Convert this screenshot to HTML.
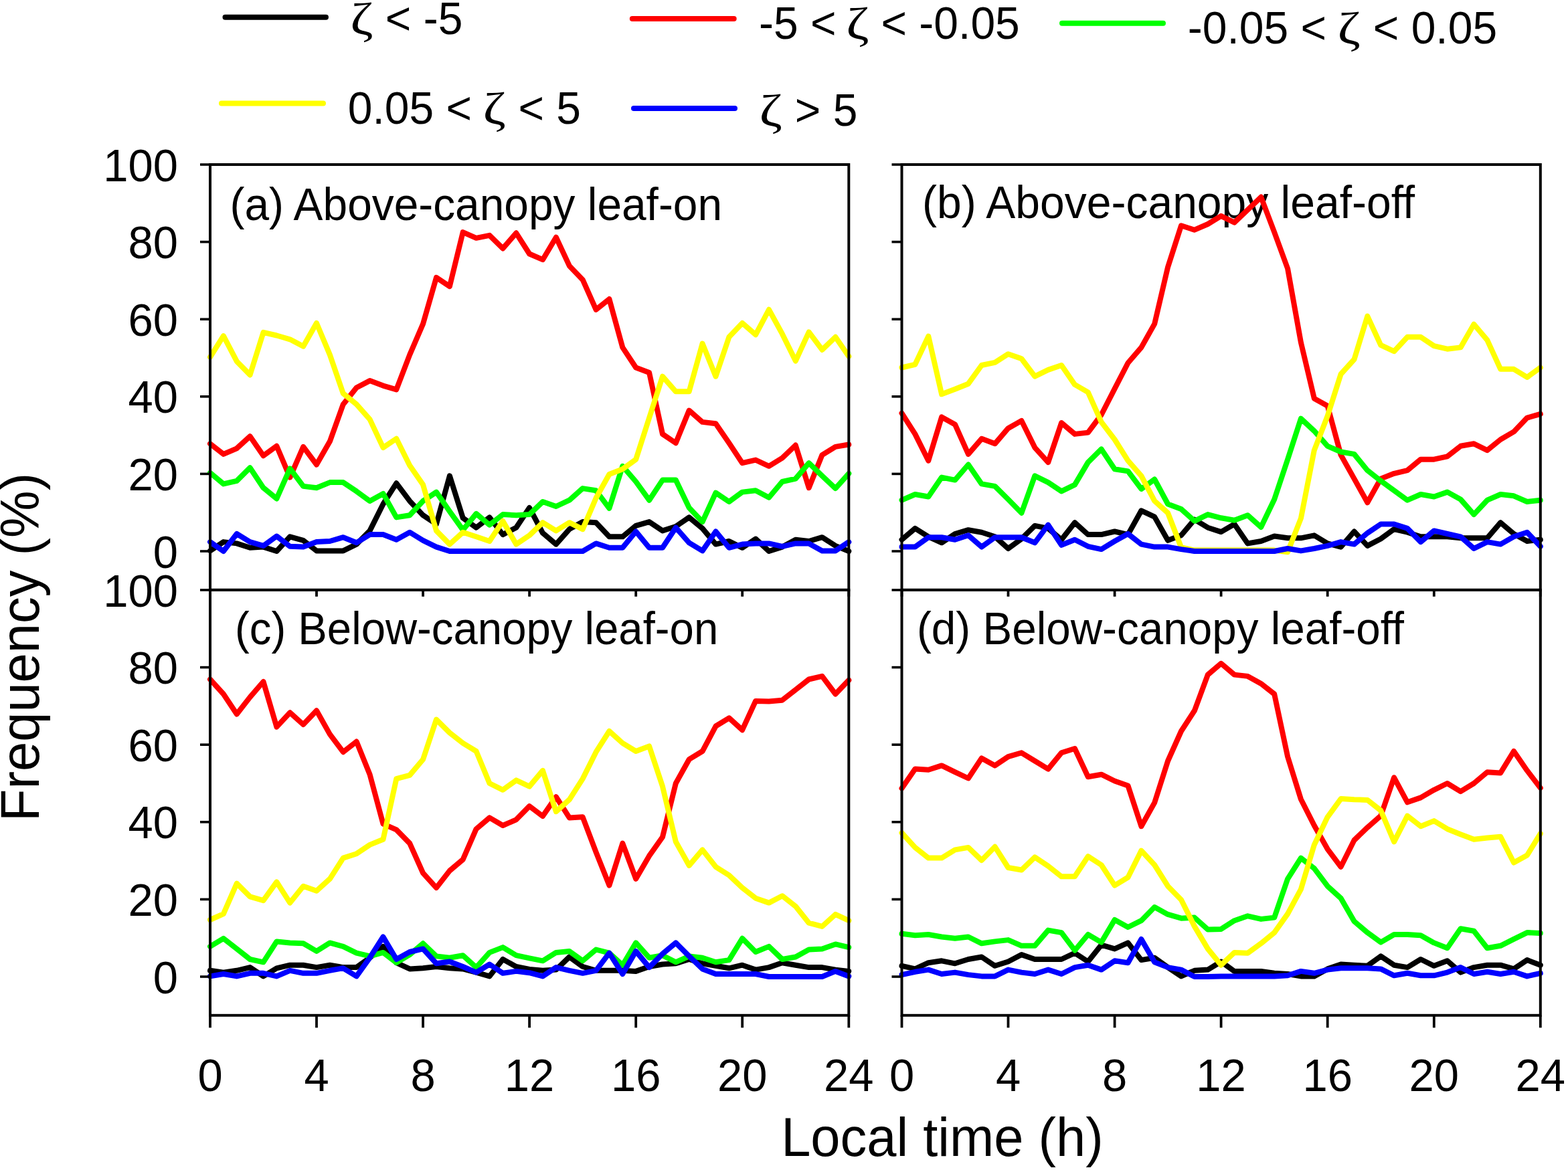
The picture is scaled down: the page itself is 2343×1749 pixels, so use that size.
<!DOCTYPE html><html><head><meta charset="utf-8"><style>html,body{margin:0;padding:0;background:#fff;}svg{display:block}text{font-family:"Liberation Sans",Arial,sans-serif;fill:#000}.z{font-family:"Liberation Serif","DejaVu Serif",serif}</style></head><body>
<svg width="2343" height="1749" viewBox="0 0 2343 1749">
<rect width="100%" height="100%" fill="#fff"/>
<text transform="translate(343.5,328.5) scale(0.9975,1.035)" font-size="66">(a) Above-canopy leaf-on</text>
<text transform="translate(1378,325.7) scale(1.0,1.035)" font-size="66">(b) Above-canopy leaf-off</text>
<text transform="translate(351,963.3) scale(0.9895,1.035)" font-size="66">(c) Below-canopy leaf-on</text>
<text transform="translate(1370,963.3) scale(0.994,1.035)" font-size="66">(d) Below-canopy leaf-off</text>
<g fill="none" stroke-width="8" stroke-linejoin="round" stroke-linecap="round">
<polyline stroke="#000" points="314.0,823.4 333.9,810.1 353.8,812.4 373.6,818.8 393.5,817.6 413.4,824.0 433.3,802.3 453.2,807.8 473.0,823.4 492.9,823.4 512.8,823.4 532.7,813.6 552.6,793.4 572.5,753.5 592.3,722.3 612.2,748.9 632.1,770.2 652.0,783.5 671.9,711.3 691.7,774.3 711.6,788.7 731.5,773.4 751.4,799.1 771.3,788.7 791.1,759.0 811.0,796.8 830.9,813.6 850.8,791.1 870.7,780.1 890.6,781.2 910.4,802.3 930.3,802.3 950.2,785.9 970.1,780.1 990.0,793.4 1009.8,787.0 1029.7,773.4 1049.6,789.9 1069.5,813.6 1089.4,809.0 1109.2,818.8 1129.1,805.5 1149.0,824.0 1168.9,817.6 1188.8,806.7 1208.7,809.0 1228.5,803.2 1248.4,815.9 1268.3,824.0"/>
<polyline stroke="#ff0000" points="314.0,663.3 333.9,678.9 353.8,670.3 373.6,652.3 393.5,681.2 413.4,666.8 433.3,713.6 453.2,667.9 473.0,694.5 492.9,659.8 512.8,604.4 532.7,579.5 552.6,569.1 572.5,576.6 592.3,582.4 612.2,530.4 632.1,484.1 652.0,414.8 671.9,428.1 691.7,347.1 711.6,355.8 731.5,351.8 751.4,371.4 771.3,348.3 791.1,379.5 811.0,388.2 830.9,354.7 850.8,397.4 870.7,418.2 890.6,462.8 910.4,447.1 930.3,519.4 950.2,549.5 970.1,557.0 990.0,648.9 1009.8,662.2 1029.7,613.6 1049.6,630.9 1069.5,633.3 1089.4,662.2 1109.2,692.2 1129.1,687.6 1149.0,696.8 1168.9,684.7 1188.8,665.6 1208.7,729.2 1228.5,680.1 1248.4,667.9 1268.3,664.5"/>
<polyline stroke="#00ff00" points="314.0,706.7 333.9,723.4 353.8,718.8 373.6,699.2 393.5,729.2 413.4,745.4 433.3,700.3 453.2,726.9 473.0,729.2 492.9,721.1 512.8,721.1 532.7,734.4 552.6,748.9 572.5,737.9 592.3,773.4 612.2,770.2 632.1,748.9 652.0,735.6 671.9,764.5 691.7,792.2 711.6,767.9 731.5,784.7 751.4,769.1 771.3,770.2 791.1,769.1 811.0,750.0 830.9,757.0 850.8,747.7 870.7,730.1 890.6,733.3 910.4,759.8 930.3,696.8 950.2,720.0 970.1,747.7 990.0,717.6 1009.8,717.6 1029.7,759.0 1049.6,780.1 1069.5,736.7 1089.4,750.0 1109.2,735.6 1129.1,733.3 1149.0,743.7 1168.9,720.0 1188.8,715.6 1208.7,692.2 1228.5,711.3 1248.4,730.1 1268.3,707.8"/>
<polyline stroke="#ffff00" points="314.0,533.8 333.9,502.1 353.8,540.2 373.6,560.4 393.5,496.9 413.4,501.5 433.3,507.3 453.2,517.7 473.0,483.0 492.9,530.4 512.8,588.2 532.7,604.4 552.6,626.9 572.5,669.1 592.3,655.8 612.2,695.7 632.1,724.6 652.0,793.4 671.9,813.6 691.7,795.7 711.6,802.3 731.5,809.0 751.4,778.9 771.3,813.6 791.1,800.3 811.0,781.2 830.9,793.4 850.8,781.2 870.7,791.1 890.6,744.5 910.4,709.0 930.3,701.2 950.2,686.7 970.1,624.6 990.0,562.7 1009.8,585.3 1029.7,585.3 1049.6,513.6 1069.5,562.7 1089.4,503.8 1109.2,483.0 1129.1,500.3 1149.0,462.8 1168.9,499.2 1188.8,539.6 1208.7,496.3 1228.5,522.9 1248.4,503.8 1268.3,532.7"/>
<polyline stroke="#0000ff" points="314.0,810.1 333.9,824.0 353.8,798.0 373.6,810.1 393.5,815.9 413.4,801.5 433.3,816.8 453.2,817.6 473.0,810.1 492.9,809.0 512.8,803.2 532.7,811.3 552.6,799.1 572.5,799.1 592.3,806.7 612.2,795.7 632.1,807.8 652.0,817.6 671.9,824.0 691.7,824.0 711.6,824.0 731.5,824.0 751.4,824.0 771.3,824.0 791.1,824.0 811.0,824.0 830.9,824.0 850.8,824.0 870.7,824.0 890.6,812.4 910.4,818.8 930.3,818.8 950.2,794.5 970.1,818.8 990.0,818.8 1009.8,788.7 1029.7,811.3 1049.6,823.4 1069.5,794.5 1089.4,818.8 1109.2,813.6 1129.1,812.4 1149.0,812.4 1168.9,816.8 1188.8,812.4 1208.7,812.4 1228.5,823.4 1248.4,823.4 1268.3,810.1"/>
</g>
<g fill="none" stroke-width="8" stroke-linejoin="round" stroke-linecap="round">
<polyline stroke="#000" points="1347.5,806.7 1367.4,789.9 1387.3,802.3 1407.1,811.3 1427.0,798.0 1446.9,792.2 1466.8,795.7 1486.7,802.3 1506.5,820.0 1526.4,805.5 1546.3,785.9 1566.2,789.9 1586.1,806.7 1606.0,781.2 1625.8,799.1 1645.7,799.1 1665.6,794.5 1685.5,799.1 1705.4,763.3 1725.2,772.6 1745.1,807.8 1765.0,800.3 1784.9,776.6 1804.8,788.7 1824.6,795.1 1844.5,783.5 1864.4,812.4 1884.3,809.0 1904.2,801.5 1924.1,804.3 1943.9,804.3 1963.8,800.3 1983.7,812.4 2003.6,817.6 2023.5,794.5 2043.3,815.9 2063.2,805.5 2083.1,791.1 2103.0,795.7 2122.9,802.3 2142.8,802.3 2162.6,802.3 2182.5,804.3 2202.4,804.3 2222.3,804.3 2242.2,781.2 2262.0,798.0 2281.9,809.0 2301.8,806.7"/>
<polyline stroke="#ff0000" points="1347.5,617.7 1367.4,648.9 1387.3,688.7 1407.1,623.4 1427.0,634.4 1446.9,678.9 1466.8,655.8 1486.7,663.3 1506.5,640.2 1526.4,628.9 1546.3,669.1 1566.2,691.1 1586.1,632.1 1606.0,648.9 1625.8,646.6 1645.7,620.0 1665.6,581.2 1685.5,542.5 1705.4,519.4 1725.2,484.1 1745.1,399.2 1765.0,337.3 1784.9,343.7 1804.8,335.0 1824.6,322.9 1844.5,332.7 1864.4,313.6 1884.3,294.6 1904.2,347.1 1924.1,401.5 1943.9,511.9 1963.8,595.7 1983.7,606.7 2003.6,680.1 2023.5,715.6 2043.3,751.2 2063.2,715.6 2083.1,707.8 2103.0,703.2 2122.9,686.7 2142.8,686.7 2162.6,682.4 2182.5,666.8 2202.4,663.3 2222.3,673.1 2242.2,657.0 2262.0,645.4 2281.9,624.6 2301.8,618.8"/>
<polyline stroke="#00ff00" points="1347.5,747.7 1367.4,739.0 1387.3,742.5 1407.1,713.6 1427.0,717.6 1446.9,694.5 1466.8,723.4 1486.7,726.9 1506.5,746.5 1526.4,766.8 1546.3,711.3 1566.2,721.1 1586.1,734.4 1606.0,724.6 1625.8,691.1 1645.7,671.4 1665.6,701.2 1685.5,704.4 1705.4,730.9 1725.2,716.5 1745.1,753.5 1765.0,761.0 1784.9,778.9 1804.8,769.1 1824.6,774.3 1844.5,777.8 1864.4,770.2 1884.3,787.9 1904.2,746.5 1924.1,686.7 1943.9,625.7 1963.8,644.2 1983.7,666.8 2003.6,675.5 2023.5,678.9 2043.3,703.2 2063.2,718.8 2083.1,733.3 2103.0,747.7 2122.9,739.0 2142.8,742.5 2162.6,735.6 2182.5,746.5 2202.4,769.1 2222.3,747.7 2242.2,739.0 2262.0,741.3 2281.9,750.0 2301.8,747.7"/>
<polyline stroke="#ffff00" points="1347.5,549.5 1367.4,544.8 1387.3,502.6 1407.1,589.3 1427.0,581.8 1446.9,573.7 1466.8,546.0 1486.7,541.9 1506.5,529.2 1526.4,536.2 1546.3,562.7 1566.2,552.9 1586.1,546.0 1606.0,574.9 1625.8,586.4 1645.7,630.9 1665.6,657.0 1685.5,688.7 1705.4,711.3 1725.2,748.9 1745.1,766.8 1765.0,818.2 1784.9,822.6 1804.8,822.6 1824.6,822.6 1844.5,822.6 1864.4,822.6 1884.3,822.6 1904.2,822.6 1924.1,825.2 1943.9,774.9 1963.8,673.1 1983.7,621.7 2003.6,559.3 2023.5,537.3 2043.3,472.6 2063.2,515.9 2083.1,525.2 2103.0,503.8 2122.9,503.8 2142.8,517.1 2162.6,521.7 2182.5,519.4 2202.4,484.7 2222.3,508.4 2242.2,551.8 2262.0,551.8 2281.9,563.9 2301.8,549.5"/>
<polyline stroke="#0000ff" points="1347.5,817.6 1367.4,817.6 1387.3,803.2 1407.1,803.2 1427.0,806.7 1446.9,800.3 1466.8,817.6 1486.7,803.2 1506.5,803.2 1526.4,803.2 1546.3,811.3 1566.2,784.7 1586.1,814.8 1606.0,806.7 1625.8,816.8 1645.7,821.1 1665.6,809.0 1685.5,798.0 1705.4,813.6 1725.2,817.6 1745.1,817.6 1765.0,821.1 1784.9,824.0 1804.8,824.0 1824.6,824.0 1844.5,824.0 1864.4,824.0 1884.3,824.0 1904.2,824.0 1924.1,820.0 1943.9,823.4 1963.8,820.0 1983.7,815.9 2003.6,810.1 2023.5,813.6 2043.3,796.8 2063.2,783.5 2083.1,783.5 2103.0,789.9 2122.9,810.1 2142.8,793.4 2162.6,798.0 2182.5,802.3 2202.4,820.0 2222.3,810.1 2242.2,813.6 2262.0,802.3 2281.9,795.7 2301.8,816.8"/>
</g>
<g fill="none" stroke-width="8" stroke-linejoin="round" stroke-linecap="round">
<polyline stroke="#000" points="314.0,1450.8 333.9,1453.6 353.8,1450.8 373.6,1446.1 393.5,1459.4 413.4,1447.3 433.3,1442.7 453.2,1442.7 473.0,1446.1 492.9,1442.7 512.8,1446.1 532.7,1446.1 552.6,1431.7 572.5,1414.9 592.3,1439.2 612.2,1448.4 632.1,1447.3 652.0,1445.0 671.9,1447.3 691.7,1448.4 711.6,1453.6 731.5,1459.4 751.4,1434.0 771.3,1445.0 791.1,1449.0 811.0,1450.8 830.9,1449.6 850.8,1430.5 870.7,1445.0 890.6,1450.8 910.4,1450.8 930.3,1450.8 950.2,1451.9 970.1,1445.0 990.0,1441.5 1009.8,1440.3 1029.7,1434.0 1049.6,1440.3 1069.5,1443.8 1089.4,1447.3 1109.2,1442.7 1129.1,1449.6 1149.0,1446.1 1168.9,1439.2 1188.8,1442.7 1208.7,1446.1 1228.5,1446.1 1248.4,1449.6 1268.3,1451.9"/>
<polyline stroke="#ff0000" points="314.0,1015.5 333.9,1037.5 353.8,1067.5 373.6,1042.1 393.5,1019.0 413.4,1086.6 433.3,1065.2 453.2,1083.1 473.0,1062.3 492.9,1097.6 512.8,1124.2 532.7,1108.6 552.6,1157.7 572.5,1231.7 592.3,1240.4 612.2,1260.6 632.1,1305.1 652.0,1327.1 671.9,1301.6 691.7,1284.9 711.6,1239.2 731.5,1222.4 751.4,1234.0 771.3,1225.3 791.1,1205.1 811.0,1220.1 830.9,1191.2 850.8,1222.4 870.7,1221.3 890.6,1273.9 910.4,1323.6 930.3,1260.6 950.2,1313.8 970.1,1279.4 990.0,1251.3 1009.8,1171.0 1029.7,1135.2 1049.6,1123.0 1069.5,1085.5 1089.4,1073.3 1109.2,1091.2 1129.1,1047.9 1149.0,1048.5 1168.9,1046.7 1188.8,1031.1 1208.7,1015.5 1228.5,1010.9 1248.4,1037.5 1268.3,1016.7"/>
<polyline stroke="#00ff00" points="314.0,1414.9 333.9,1402.8 353.8,1418.4 373.6,1434.0 393.5,1438.3 413.4,1407.4 433.3,1409.4 453.2,1410.3 473.0,1421.9 492.9,1409.4 512.8,1414.9 532.7,1424.7 552.6,1429.4 572.5,1423.9 592.3,1439.2 612.2,1427.1 632.1,1410.3 652.0,1429.4 671.9,1431.7 691.7,1428.2 711.6,1446.1 731.5,1423.9 751.4,1416.1 771.3,1428.2 791.1,1432.3 811.0,1436.3 830.9,1423.9 850.8,1421.9 870.7,1436.3 890.6,1419.5 910.4,1424.7 930.3,1442.7 950.2,1409.4 970.1,1431.7 990.0,1428.2 1009.8,1438.3 1029.7,1429.4 1049.6,1431.7 1069.5,1438.3 1089.4,1435.1 1109.2,1402.8 1129.1,1423.0 1149.0,1414.9 1168.9,1434.0 1188.8,1430.5 1208.7,1419.5 1228.5,1418.4 1248.4,1411.4 1268.3,1416.1"/>
<polyline stroke="#ffff00" points="314.0,1375.0 333.9,1366.1 353.8,1320.7 373.6,1340.4 393.5,1346.1 413.4,1318.4 433.3,1349.6 453.2,1324.7 473.0,1331.7 492.9,1313.8 512.8,1282.6 532.7,1276.2 552.6,1262.9 572.5,1254.8 592.3,1164.1 612.2,1158.9 632.1,1135.2 652.0,1075.6 671.9,1095.3 691.7,1110.9 711.6,1123.0 731.5,1171.0 751.4,1180.8 771.3,1166.4 791.1,1175.6 811.0,1151.9 830.9,1213.2 850.8,1195.3 870.7,1164.1 890.6,1124.2 910.4,1093.0 930.3,1110.9 950.2,1123.0 970.1,1115.5 990.0,1175.6 1009.8,1258.3 1029.7,1293.8 1049.6,1270.4 1069.5,1295.8 1089.4,1308.3 1109.2,1327.1 1129.1,1342.7 1149.0,1349.6 1168.9,1339.2 1188.8,1354.8 1208.7,1379.7 1228.5,1384.9 1248.4,1366.9 1268.3,1376.2"/>
<polyline stroke="#0000ff" points="314.0,1459.4 333.9,1456.0 353.8,1459.4 373.6,1454.8 393.5,1454.8 413.4,1459.4 433.3,1450.8 453.2,1454.8 473.0,1454.8 492.9,1450.8 512.8,1447.3 532.7,1459.4 552.6,1431.7 572.5,1400.5 592.3,1434.0 612.2,1423.0 632.1,1418.4 652.0,1440.3 671.9,1437.5 691.7,1445.0 711.6,1453.6 731.5,1441.5 751.4,1454.8 771.3,1451.9 791.1,1454.2 811.0,1459.4 830.9,1446.1 850.8,1450.8 870.7,1454.8 890.6,1450.8 910.4,1424.7 930.3,1456.0 950.2,1421.9 970.1,1446.1 990.0,1425.9 1009.8,1409.4 1029.7,1429.4 1049.6,1448.4 1069.5,1456.0 1089.4,1456.0 1109.2,1456.0 1129.1,1456.0 1149.0,1460.0 1168.9,1460.0 1188.8,1460.0 1208.7,1460.0 1228.5,1460.0 1248.4,1451.9 1268.3,1459.4"/>
</g>
<g fill="none" stroke-width="8" stroke-linejoin="round" stroke-linecap="round">
<polyline stroke="#000" points="1347.5,1443.8 1367.4,1448.4 1387.3,1439.2 1407.1,1436.3 1427.0,1440.3 1446.9,1434.0 1466.8,1430.5 1486.7,1443.8 1506.5,1437.5 1526.4,1427.1 1546.3,1434.0 1566.2,1434.0 1586.1,1434.0 1606.0,1424.7 1625.8,1437.5 1645.7,1412.6 1665.6,1418.4 1685.5,1409.4 1705.4,1435.1 1725.2,1431.7 1745.1,1446.1 1765.0,1459.4 1784.9,1450.8 1804.8,1449.6 1824.6,1437.5 1844.5,1451.9 1864.4,1451.9 1884.3,1451.9 1904.2,1454.8 1924.1,1456.0 1943.9,1459.4 1963.8,1459.4 1983.7,1448.4 2003.6,1441.5 2023.5,1442.7 2043.3,1443.8 2063.2,1429.4 2083.1,1442.7 2103.0,1446.1 2122.9,1434.0 2142.8,1443.8 2162.6,1436.3 2182.5,1453.6 2202.4,1446.1 2222.3,1442.7 2242.2,1442.7 2262.0,1448.4 2281.9,1435.1 2301.8,1442.7"/>
<polyline stroke="#ff0000" points="1347.5,1178.5 1367.4,1149.6 1387.3,1150.8 1407.1,1144.4 1427.0,1154.2 1446.9,1163.5 1466.8,1133.4 1486.7,1144.4 1506.5,1131.1 1526.4,1125.3 1546.3,1137.5 1566.2,1149.6 1586.1,1125.3 1606.0,1119.0 1625.8,1161.2 1645.7,1157.7 1665.6,1167.5 1685.5,1174.5 1705.4,1235.2 1725.2,1199.9 1745.1,1137.5 1765.0,1093.0 1784.9,1062.3 1804.8,1008.6 1824.6,991.8 1844.5,1008.6 1864.4,1010.9 1884.3,1021.9 1904.2,1037.5 1924.1,1131.1 1943.9,1194.7 1963.8,1234.0 1983.7,1269.3 2003.6,1295.8 2023.5,1256.0 2043.3,1236.9 2063.2,1219.6 2083.1,1162.3 2103.0,1199.3 2122.9,1192.4 2142.8,1180.8 2162.6,1171.0 2182.5,1183.1 2202.4,1171.0 2222.3,1154.2 2242.2,1155.4 2262.0,1123.0 2281.9,1151.9 2301.8,1177.9"/>
<polyline stroke="#00ff00" points="1347.5,1395.8 1367.4,1398.2 1387.3,1397.0 1407.1,1400.5 1427.0,1402.8 1446.9,1400.5 1466.8,1410.3 1486.7,1407.4 1506.5,1405.1 1526.4,1413.8 1546.3,1413.8 1566.2,1390.6 1586.1,1394.1 1606.0,1420.7 1625.8,1397.0 1645.7,1408.6 1665.6,1375.0 1685.5,1386.0 1705.4,1376.2 1725.2,1356.0 1745.1,1366.9 1765.0,1372.7 1784.9,1371.6 1804.8,1389.5 1824.6,1388.9 1844.5,1376.2 1864.4,1369.3 1884.3,1373.9 1904.2,1371.6 1924.1,1313.8 1943.9,1282.6 1963.8,1298.2 1983.7,1324.7 2003.6,1342.7 2023.5,1377.3 2043.3,1394.1 2063.2,1408.6 2083.1,1397.0 2103.0,1397.0 2122.9,1398.2 2142.8,1409.4 2162.6,1417.2 2182.5,1388.3 2202.4,1391.8 2222.3,1417.2 2242.2,1413.8 2262.0,1403.9 2281.9,1394.1 2301.8,1395.0"/>
<polyline stroke="#ffff00" points="1347.5,1245.0 1367.4,1266.9 1387.3,1282.6 1407.1,1282.6 1427.0,1270.4 1446.9,1266.9 1466.8,1286.0 1486.7,1265.8 1506.5,1297.0 1526.4,1300.5 1546.3,1281.4 1566.2,1294.7 1586.1,1310.3 1606.0,1310.3 1625.8,1280.2 1645.7,1293.0 1665.6,1323.6 1685.5,1311.5 1705.4,1271.6 1725.2,1293.0 1745.1,1324.7 1765.0,1345.0 1784.9,1384.9 1804.8,1418.4 1824.6,1442.7 1844.5,1423.9 1864.4,1424.7 1884.3,1410.3 1904.2,1394.1 1924.1,1366.1 1943.9,1329.4 1963.8,1262.9 1983.7,1221.3 2003.6,1194.1 2023.5,1195.3 2043.3,1195.9 2063.2,1211.5 2083.1,1258.3 2103.0,1219.6 2122.9,1235.2 2142.8,1227.1 2162.6,1239.2 2182.5,1247.3 2202.4,1254.8 2222.3,1252.5 2242.2,1250.8 2262.0,1289.5 2281.9,1278.5 2301.8,1246.1"/>
<polyline stroke="#0000ff" points="1347.5,1457.1 1367.4,1452.8 1387.3,1449.6 1407.1,1456.0 1427.0,1453.6 1446.9,1457.1 1466.8,1459.4 1486.7,1459.4 1506.5,1449.6 1526.4,1453.6 1546.3,1456.0 1566.2,1449.6 1586.1,1456.0 1606.0,1446.1 1625.8,1442.7 1645.7,1449.6 1665.6,1436.3 1685.5,1439.2 1705.4,1403.9 1725.2,1438.3 1745.1,1446.1 1765.0,1449.6 1784.9,1460.0 1804.8,1460.0 1824.6,1459.4 1844.5,1459.4 1864.4,1459.4 1884.3,1459.4 1904.2,1459.4 1924.1,1458.3 1943.9,1451.9 1963.8,1454.8 1983.7,1449.6 2003.6,1447.3 2023.5,1447.3 2043.3,1447.3 2063.2,1448.4 2083.1,1458.3 2103.0,1454.8 2122.9,1458.3 2142.8,1458.3 2162.6,1453.6 2182.5,1446.1 2202.4,1456.0 2222.3,1452.8 2242.2,1456.0 2262.0,1452.8 2281.9,1459.4 2301.8,1454.8"/>
</g>
<g stroke="#000" fill="none">
<rect x="314" y="246" width="954.3" height="635.8" stroke-width="4"/>
<line x1="299" y1="824.0" x2="314" y2="824.0" stroke-width="3.6"/>
<line x1="299" y1="708.4" x2="314" y2="708.4" stroke-width="3.6"/>
<line x1="299" y1="592.8" x2="314" y2="592.8" stroke-width="3.6"/>
<line x1="299" y1="477.2" x2="314" y2="477.2" stroke-width="3.6"/>
<line x1="299" y1="361.6" x2="314" y2="361.6" stroke-width="3.6"/>
<line x1="299" y1="246.0" x2="314" y2="246.0" stroke-width="3.6"/>
<line x1="314.0" y1="881.8" x2="314.0" y2="891.8" stroke-width="3.8"/>
<line x1="473.0" y1="881.8" x2="473.0" y2="891.8" stroke-width="3.8"/>
<line x1="632.1" y1="881.8" x2="632.1" y2="891.8" stroke-width="3.8"/>
<line x1="791.1" y1="881.8" x2="791.1" y2="891.8" stroke-width="3.8"/>
<line x1="950.2" y1="881.8" x2="950.2" y2="891.8" stroke-width="3.8"/>
<line x1="1109.2" y1="881.8" x2="1109.2" y2="891.8" stroke-width="3.8"/>
<line x1="1268.3" y1="881.8" x2="1268.3" y2="891.8" stroke-width="3.8"/>
<rect x="1347.5" y="246" width="954.3" height="635.8" stroke-width="4"/>
<line x1="1332.5" y1="824.0" x2="1347.5" y2="824.0" stroke-width="3.6"/>
<line x1="1332.5" y1="708.4" x2="1347.5" y2="708.4" stroke-width="3.6"/>
<line x1="1332.5" y1="592.8" x2="1347.5" y2="592.8" stroke-width="3.6"/>
<line x1="1332.5" y1="477.2" x2="1347.5" y2="477.2" stroke-width="3.6"/>
<line x1="1332.5" y1="361.6" x2="1347.5" y2="361.6" stroke-width="3.6"/>
<line x1="1332.5" y1="246.0" x2="1347.5" y2="246.0" stroke-width="3.6"/>
<line x1="1347.5" y1="881.8" x2="1347.5" y2="891.8" stroke-width="3.8"/>
<line x1="1506.5" y1="881.8" x2="1506.5" y2="891.8" stroke-width="3.8"/>
<line x1="1665.6" y1="881.8" x2="1665.6" y2="891.8" stroke-width="3.8"/>
<line x1="1824.6" y1="881.8" x2="1824.6" y2="891.8" stroke-width="3.8"/>
<line x1="1983.7" y1="881.8" x2="1983.7" y2="891.8" stroke-width="3.8"/>
<line x1="2142.8" y1="881.8" x2="2142.8" y2="891.8" stroke-width="3.8"/>
<line x1="2301.8" y1="881.8" x2="2301.8" y2="891.8" stroke-width="3.8"/>
<rect x="314" y="882" width="954.3" height="635.8" stroke-width="4"/>
<line x1="299" y1="1460.0" x2="314" y2="1460.0" stroke-width="3.6"/>
<line x1="299" y1="1344.4" x2="314" y2="1344.4" stroke-width="3.6"/>
<line x1="299" y1="1228.8" x2="314" y2="1228.8" stroke-width="3.6"/>
<line x1="299" y1="1113.2" x2="314" y2="1113.2" stroke-width="3.6"/>
<line x1="299" y1="997.6" x2="314" y2="997.6" stroke-width="3.6"/>
<line x1="299" y1="882.0" x2="314" y2="882.0" stroke-width="3.6"/>
<line x1="314.0" y1="1517.8" x2="314.0" y2="1536.3" stroke-width="3.8"/>
<line x1="473.0" y1="1517.8" x2="473.0" y2="1536.3" stroke-width="3.8"/>
<line x1="632.1" y1="1517.8" x2="632.1" y2="1536.3" stroke-width="3.8"/>
<line x1="791.1" y1="1517.8" x2="791.1" y2="1536.3" stroke-width="3.8"/>
<line x1="950.2" y1="1517.8" x2="950.2" y2="1536.3" stroke-width="3.8"/>
<line x1="1109.2" y1="1517.8" x2="1109.2" y2="1536.3" stroke-width="3.8"/>
<line x1="1268.3" y1="1517.8" x2="1268.3" y2="1536.3" stroke-width="3.8"/>
<rect x="1347.5" y="882" width="954.3" height="635.8" stroke-width="4"/>
<line x1="1332.5" y1="1460.0" x2="1347.5" y2="1460.0" stroke-width="3.6"/>
<line x1="1332.5" y1="1344.4" x2="1347.5" y2="1344.4" stroke-width="3.6"/>
<line x1="1332.5" y1="1228.8" x2="1347.5" y2="1228.8" stroke-width="3.6"/>
<line x1="1332.5" y1="1113.2" x2="1347.5" y2="1113.2" stroke-width="3.6"/>
<line x1="1332.5" y1="997.6" x2="1347.5" y2="997.6" stroke-width="3.6"/>
<line x1="1332.5" y1="882.0" x2="1347.5" y2="882.0" stroke-width="3.6"/>
<line x1="1347.5" y1="1517.8" x2="1347.5" y2="1536.3" stroke-width="3.8"/>
<line x1="1506.5" y1="1517.8" x2="1506.5" y2="1536.3" stroke-width="3.8"/>
<line x1="1665.6" y1="1517.8" x2="1665.6" y2="1536.3" stroke-width="3.8"/>
<line x1="1824.6" y1="1517.8" x2="1824.6" y2="1536.3" stroke-width="3.8"/>
<line x1="1983.7" y1="1517.8" x2="1983.7" y2="1536.3" stroke-width="3.8"/>
<line x1="2142.8" y1="1517.8" x2="2142.8" y2="1536.3" stroke-width="3.8"/>
<line x1="2301.8" y1="1517.8" x2="2301.8" y2="1536.3" stroke-width="3.8"/>
</g>
<text transform="translate(266.0,848.5) scale(1,1.035)" font-size="67" text-anchor="end">0</text>
<text transform="translate(266.0,732.9) scale(1,1.035)" font-size="67" text-anchor="end">20</text>
<text transform="translate(266.0,617.3) scale(1,1.035)" font-size="67" text-anchor="end">40</text>
<text transform="translate(266.0,501.7) scale(1,1.035)" font-size="67" text-anchor="end">60</text>
<text transform="translate(266.0,386.1) scale(1,1.035)" font-size="67" text-anchor="end">80</text>
<text transform="translate(266.0,270.5) scale(1,1.035)" font-size="67" text-anchor="end">100</text>
<text transform="translate(266.0,1484.5) scale(1,1.035)" font-size="67" text-anchor="end">0</text>
<text transform="translate(266.0,1368.9) scale(1,1.035)" font-size="67" text-anchor="end">20</text>
<text transform="translate(266.0,1253.3) scale(1,1.035)" font-size="67" text-anchor="end">40</text>
<text transform="translate(266.0,1137.7) scale(1,1.035)" font-size="67" text-anchor="end">60</text>
<text transform="translate(266.0,1022.1) scale(1,1.035)" font-size="67" text-anchor="end">80</text>
<text transform="translate(266.0,906.5) scale(1,1.035)" font-size="67" text-anchor="end">100</text>
<text transform="translate(314.0,1630.5) scale(1,1.035)" font-size="67" text-anchor="middle">0</text>
<text transform="translate(473.0,1630.5) scale(1,1.035)" font-size="67" text-anchor="middle">4</text>
<text transform="translate(632.1,1630.5) scale(1,1.035)" font-size="67" text-anchor="middle">8</text>
<text transform="translate(791.1,1630.5) scale(1,1.035)" font-size="67" text-anchor="middle">12</text>
<text transform="translate(950.2,1630.5) scale(1,1.035)" font-size="67" text-anchor="middle">16</text>
<text transform="translate(1109.2,1630.5) scale(1,1.035)" font-size="67" text-anchor="middle">20</text>
<text transform="translate(1268.3,1630.5) scale(1,1.035)" font-size="67" text-anchor="middle">24</text>
<text transform="translate(1347.5,1630.5) scale(1,1.035)" font-size="67" text-anchor="middle">0</text>
<text transform="translate(1506.5,1630.5) scale(1,1.035)" font-size="67" text-anchor="middle">4</text>
<text transform="translate(1665.6,1630.5) scale(1,1.035)" font-size="67" text-anchor="middle">8</text>
<text transform="translate(1824.6,1630.5) scale(1,1.035)" font-size="67" text-anchor="middle">12</text>
<text transform="translate(1983.7,1630.5) scale(1,1.035)" font-size="67" text-anchor="middle">16</text>
<text transform="translate(2142.8,1630.5) scale(1,1.035)" font-size="67" text-anchor="middle">20</text>
<text transform="translate(2301.8,1630.5) scale(1,1.035)" font-size="67" text-anchor="middle">24</text>
<text transform="translate(1407.9,1728) scale(1,1.02)" font-size="79.5" text-anchor="middle">Local time (h)</text>
<text transform="translate(57.8,967.4) rotate(-90) scale(1,1.02)" font-size="79.5" text-anchor="middle">Frequency (%)</text>
<line x1="336.5" y1="25.8" x2="487" y2="25.8" stroke="#000" stroke-width="8" stroke-linecap="round"/>
<line x1="944.8" y1="28" x2="1096.7" y2="28" stroke="#ff0000" stroke-width="8" stroke-linecap="round"/>
<line x1="1587" y1="34.7" x2="1738" y2="34.7" stroke="#00ff00" stroke-width="8" stroke-linecap="round"/>
<line x1="331" y1="154.6" x2="483" y2="154.6" stroke="#ffff00" stroke-width="8" stroke-linecap="round"/>
<line x1="947" y1="162" x2="1098" y2="162" stroke="#0000ff" stroke-width="8" stroke-linecap="round"/>
<text class="z" transform="translate(523.19,51.2) scale(1.26,1.035)" font-size="66">ζ</text>
<text transform="translate(575.8,51.2) scale(1,1.035)" font-size="66" xml:space="preserve">&lt; -5</text>
<text transform="translate(1134.1,58.2) scale(1,1.035)" font-size="66" xml:space="preserve">-5 &lt;</text>
<text class="z" transform="translate(1264.19,58.2) scale(1.26,1.035)" font-size="66">ζ</text>
<text transform="translate(1316.5,58.2) scale(1,1.035)" font-size="66" xml:space="preserve">&lt; -0.05</text>
<text transform="translate(1774.7,64.9) scale(1,1.035)" font-size="66" xml:space="preserve">-0.05 &lt;</text>
<text class="z" transform="translate(1998.59,64.9) scale(1.26,1.035)" font-size="66">ζ</text>
<text transform="translate(2051.8,64.9) scale(1,1.035)" font-size="66" xml:space="preserve">&lt; 0.05</text>
<text transform="translate(519.7,185.2) scale(1,1.035)" font-size="66" xml:space="preserve">0.05 &lt;</text>
<text class="z" transform="translate(721.49,185.2) scale(1.26,1.035)" font-size="66">ζ</text>
<text transform="translate(774.5,185.2) scale(1,1.035)" font-size="66" xml:space="preserve">&lt; 5</text>
<text class="z" transform="translate(1134.39,188.1) scale(1.26,1.035)" font-size="66">ζ</text>
<text transform="translate(1187.8,188.1) scale(1,1.035)" font-size="66" xml:space="preserve">&gt; 5</text>
</svg></body></html>
